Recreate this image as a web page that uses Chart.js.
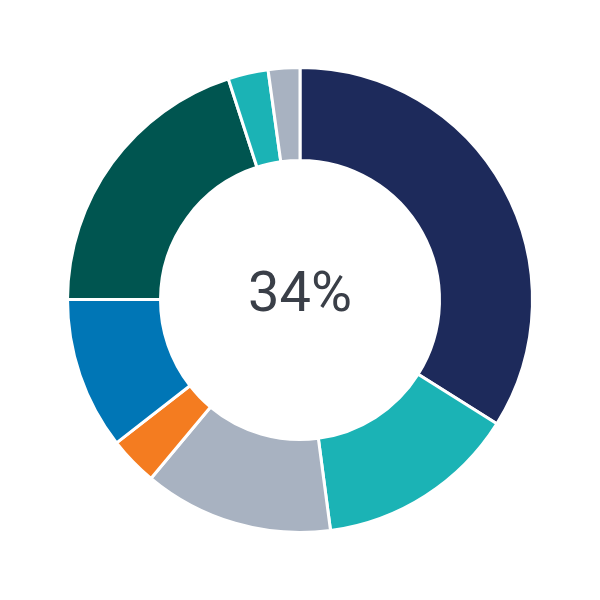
<!DOCTYPE html>
<html>
<head>
<meta charset="utf-8">
<script src="https://cdn.jsdelivr.net/npm/chart.js@4/dist/chart.umd.min.js"></script>
<style>
    html, body { margin: 0; padding: 0; background: #ffffff; }
    #wrap { width: 600px; height: 600px; }
</style>
</head>
<body>
<div id="wrap"><canvas id="donut-chart"></canvas></div>
<script>
// Segment values, clockwise from 12 o'clock
const segmentLabels = ['A', 'B', 'C', 'D', 'E', 'F', 'G', 'H'];
const segmentValues = [34, 14, 13.2, 3.4, 10.6, 20, 2.8, 2.2];
const segmentColors = ['#1d2a5b', '#1bb3b5', '#a8b2c1', '#f47c20', '#0076b6', '#005550', '#1bb3b5', '#a8b2c1'];
const centerLabel = '34%';

// Draws the big number in the hole
const centerTextPlugin = {
    id: 'centerText',
    afterDraw(chart) {
        const ctx = chart.ctx;
        const meta = chart.getDatasetMeta(0);
        if (!meta.data.length) return;
        const { x, y } = meta.data[0];
        ctx.save();
        ctx.font = '400 56px Roboto, "Liberation Sans", sans-serif';
        ctx.fillStyle = '#3a3f48';
        ctx.textAlign = 'center';
        ctx.textBaseline = 'middle';
        ctx.fillText(centerLabel, x, y - 3);
        ctx.restore();
    }
};

const ctx = document.getElementById('donut-chart').getContext('2d');
new Chart(ctx, {
    type: 'doughnut',
    data: {
        labels: segmentLabels,
        datasets: [{
            data: segmentValues,
            backgroundColor: segmentColors,
            borderColor: '#ffffff',
            borderWidth: 3,
            hoverBorderWidth: 3
        }]
    },
    options: {
        responsive: true,
        maintainAspectRatio: false,
        animation: false,
        cutout: '60%',
        layout: { padding: 66 },
        plugins: {
            legend: { display: false },
            tooltip: { enabled: false }
        }
    },
    plugins: [centerTextPlugin]
});
</script>
</body>
</html>
